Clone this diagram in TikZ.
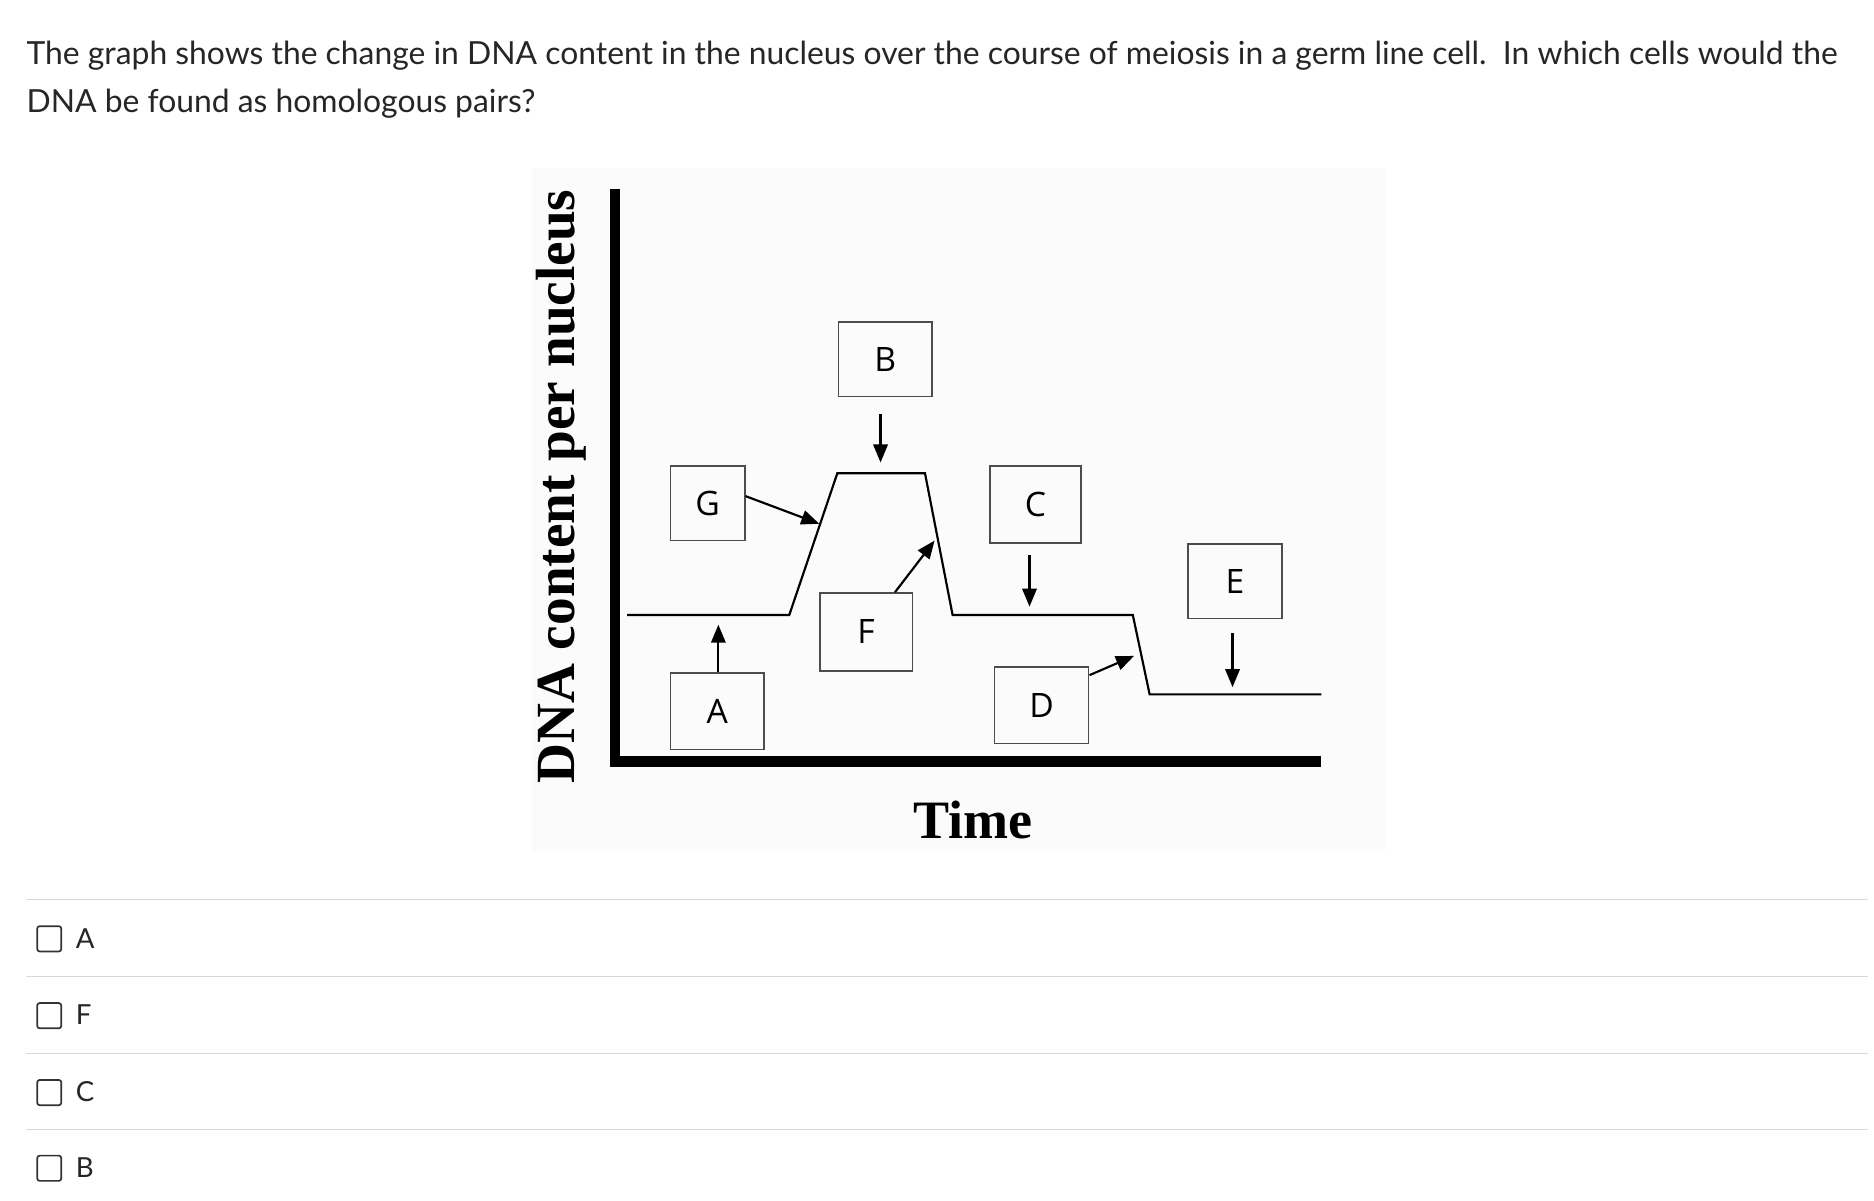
\documentclass[tikz,border=0pt]{standalone}
\usepackage{fontspec}
\setmainfont{Lato}
\newfontfamily\serifb{Liberation Serif}
\newfontfamily\boxf{Open Sans}
\usetikzlibrary{arrows.meta}
\begin{document}
\begin{tikzpicture}[x=1pt,y=-1pt,
  lbl/.style={draw=black!70,line width=1.3pt,minimum width=#1,inner sep=0pt,font=\boxf\fontsize{28}{28}\selectfont},
  arr/.style={line width=1.8pt,-{Triangle[length=15pt,width=12pt]}},
  sep/.style={draw=black!15,line width=1pt},
  cb/.style={draw=black!80,line width=1.4pt,rounded corners=2pt}]
\useasboundingbox (0,0) rectangle (1560,999);
\fill[white] (0,0) rectangle (1560,999);
\node[anchor=base west,inner sep=0pt,font=\fontsize{26.5}{30}\selectfont,text=black!85] (q1) at (22,54) {The graph shows the change in DNA content in the nucleus over the course of meiosis in a germ line cell.\ \ In which cells would the};
\node[anchor=base west,inner sep=0pt,font=\fontsize{26.5}{30}\selectfont,text=black!85] (q2) at (22,94) {DNA be found as homologous pairs?};
\fill[black!1.5] (443,140) rectangle (1153,708);
\draw[line width=9pt] (512,157) -- (512,634) -- (1100,634);
\draw[line width=1.8pt] (522,512)--(657,512)--(697,394)--(770,394)--(793,512)--(943,512)--(957,578)--(1100,578);
\node[lbl=62pt,minimum height=62pt] (G) at (589,419) {G};
\node[lbl=78pt,minimum height=62pt] (B) at (737,299) {B};
\node[lbl=76pt,minimum height=64pt] (C) at (862,420) {C};
\node[lbl=78pt,minimum height=62pt] (E) at (1028,484) {E};
\node[lbl=77pt,minimum height=65pt] (F) at (721,526) {F};
\node[lbl=78pt,minimum height=64pt] (A) at (597,592) {A};
\node[lbl=78pt,minimum height=64pt] (D) at (867,587) {D};
\coordinate (tb) at (733,385); \coordinate (tg) at (682,436); \coordinate (tc) at (857,505);
\coordinate (te) at (1026,572); \coordinate (ta) at (598,520); \coordinate (tf) at (778,450); \coordinate (td) at (944,546);
\draw[arr] (733,345) -- (tb);
\draw[arr] (G.east |- 0,413) -- (tg);
\draw[arr] (857,462) -- (tc);
\draw[arr] (1026,527) -- (te);
\draw[arr] (A.north -| ta) -- (ta);
\draw[arr] (745,493) -- (tf);
\draw[arr] (907,562) -- (td);
\node[rotate=90,font=\serifb\bfseries\fontsize{46}{46}\selectfont] (yl) at (467,405) {DNA content per nucleus};
\node[font=\serifb\bfseries\fontsize{45}{45}\selectfont] (xl) at (810,683) {Time};
\foreach \y in {749,813,877,940} \draw[sep] (22,\y) -- (1555,\y);
\foreach \y/\t in {781/A,845/F,909/C,972/B}{
  \draw[cb] (31,\y-10) rectangle (51,\y+11);
  \node[anchor=west,inner sep=0pt,font=\fontsize{23}{23}\selectfont,text=black!85] at (63,\y) {\t};}
\end{tikzpicture}
\end{document}
